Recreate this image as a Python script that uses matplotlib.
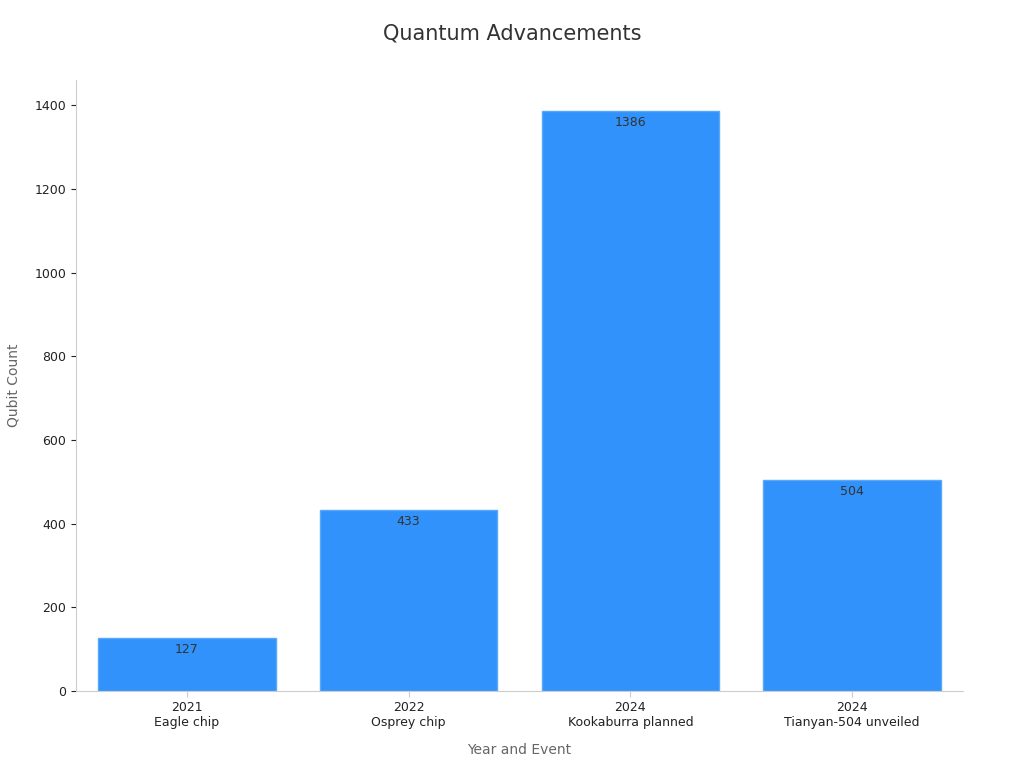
import matplotlib
matplotlib.use("Agg")
import matplotlib.pyplot as plt

years = ["2021", "2022", "2024", "2024"]
events = ["Eagle chip", "Osprey chip", "Kookaburra planned", "Tianyan-504 unveiled"]
qubits = [127, 433, 1386, 504]

plt.rcParams["font.family"] = ["DejaVu Sans"]

fig = plt.figure(figsize=(10.24, 7.68), dpi=100)
ax = fig.add_axes([76 / 1024, 1 - 691 / 768, (963 - 76) / 1024, (691 - 80) / 768])

labels = [f"{y}\n{e}" for y, e in zip(years, events)]
x = range(len(qubits))
bars = ax.bar(x, qubits, width=0.8, color="#3092FA", edgecolor="#5aa8fb", linewidth=1)
for b, v in zip(bars, qubits):
    ax.text(b.get_x() + b.get_width() / 2, v - 12, str(v), ha="center", va="top",
            fontsize=9, color="#333333")

ax.set_xticks(list(x))
ax.set_xticklabels(labels, fontsize=9, color="#222222")
ax.set_xlim(-0.5, 3.5)
ax.set_ylim(0, 1460)
ax.set_yticks(range(0, 1401, 200))
ax.tick_params(axis="y", labelsize=9, colors="#222222")
ax.tick_params(axis="x", length=4, color="#cccccc")
for s in ("top", "right"):
    ax.spines[s].set_visible(False)
for s in ("left", "bottom"):
    ax.spines[s].set_color("#cccccc")

ax.set_xlabel("Year and Event", fontsize=10, color="#666666", labelpad=10)
ax.set_ylabel("Qubit Count", fontsize=10, color="#666666", labelpad=10)
fig.text(0.5, 1 - 33 / 768, "Quantum Advancements", ha="center", va="center",
         fontsize=15, color="#333333")

fig.savefig("out.png", dpi=100)
plt.close(fig)
